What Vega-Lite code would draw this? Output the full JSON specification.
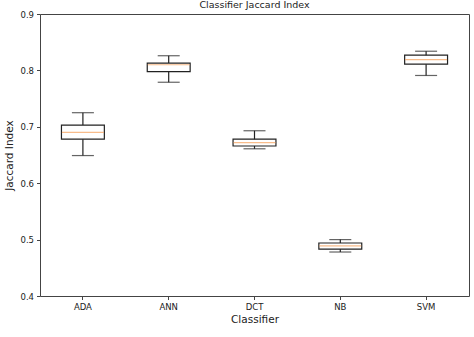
{
  "$schema": "https://vega.github.io/schema/vega-lite/v6.json",
  "width": 429,
  "height": 282,
  "autosize": {"type": "none"},
  "padding": {"left": 40, "top": 14, "right": 5, "bottom": 41},
  "background": "white",
  "title": {"text": "Classifier Jaccard Index", "fontSize": 9.5, "font": "DejaVu Sans", "fontWeight": "normal", "color": "#222", "offset": 1},
  "config": {
    "font": "DejaVu Sans",
    "view": {"stroke": "#444", "strokeWidth": 1},
    "axis": {"grid": false, "domain": false, "tickColor": "#444", "tickSize": 3.5, "labelFontSize": 8.5, "labelColor": "#222", "titleFontSize": 10.5, "titleFontWeight": "normal", "titleColor": "#222", "labelPadding": 3}
  },
  "data": {"values": [
    {"classifier": "ADA", "lower": 0.649, "q1": 0.678, "median": 0.690, "q3": 0.703, "upper": 0.725},
    {"classifier": "ANN", "lower": 0.779, "q1": 0.798, "median": 0.810, "q3": 0.813, "upper": 0.826},
    {"classifier": "DCT", "lower": 0.661, "q1": 0.666, "median": 0.672, "q3": 0.678, "upper": 0.693},
    {"classifier": "NB", "lower": 0.478, "q1": 0.483, "median": 0.489, "q3": 0.494, "upper": 0.500},
    {"classifier": "SVM", "lower": 0.791, "q1": 0.811, "median": 0.819, "q3": 0.827, "upper": 0.834}
  ]},
  "encoding": {
    "x": {"field": "classifier", "type": "nominal", "scale": {"paddingInner": 0, "paddingOuter": 0}, "axis": {"title": "Classifier", "labelAngle": 0, "titlePadding": 3}}
  },
  "layer": [
    {
      "mark": {"type": "rule", "color": "#222", "strokeWidth": 1.2},
      "encoding": {
        "y": {"field": "lower", "type": "quantitative", "scale": {"domain": [0.4, 0.9], "nice": false, "zero": false}, "axis": {"title": "Jaccard Index", "values": [0.4, 0.5, 0.6, 0.7, 0.8, 0.9], "format": ".1f", "titlePadding": 5}},
        "y2": {"field": "upper"}
      }
    },
    {
      "mark": {"type": "bar", "fill": "white", "stroke": "#222", "strokeWidth": 1.2, "width": {"band": 0.5}},
      "encoding": {
        "y": {"field": "q1", "type": "quantitative"},
        "y2": {"field": "q3"}
      }
    },
    {
      "mark": {"type": "tick", "color": "#f5a05a", "size": 42, "thickness": 1.2, "orient": "horizontal"},
      "encoding": {"y": {"field": "median", "type": "quantitative"}}
    },
    {
      "mark": {"type": "tick", "color": "#222", "size": 22, "thickness": 1.2, "orient": "horizontal"},
      "encoding": {"y": {"field": "lower", "type": "quantitative"}}
    },
    {
      "mark": {"type": "tick", "color": "#222", "size": 22, "thickness": 1.2, "orient": "horizontal"},
      "encoding": {"y": {"field": "upper", "type": "quantitative"}}
    }
  ]
}
